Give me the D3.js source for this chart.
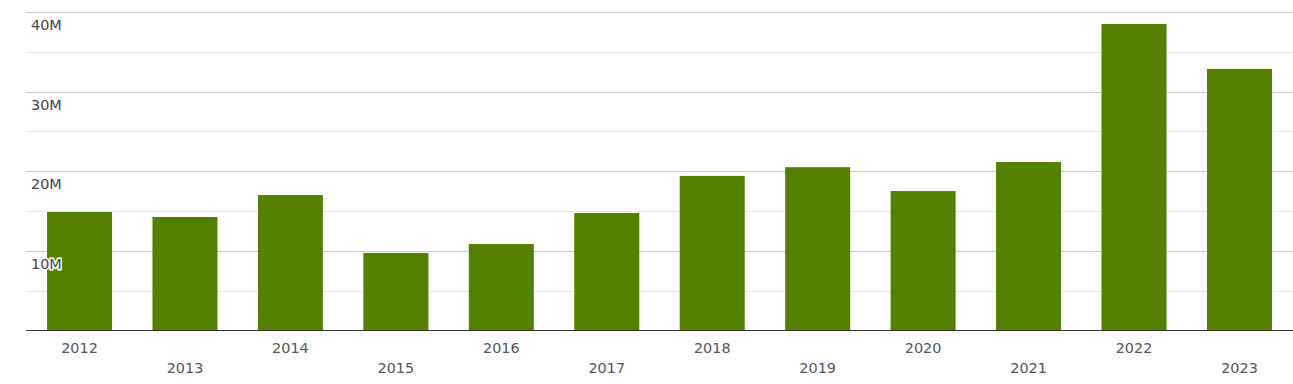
<!DOCTYPE html>
<html>
<head>
<meta charset="utf-8">
<script src="https://cdn.jsdelivr.net/npm/d3@7"></script>
<style>
  body { margin: 0; background: #fff; }
  text { font-family: "DejaVu Sans", sans-serif; font-size: 14.4px; }
</style>
</head>
<body>
<div id="ch"></div>
<script>
// Bar chart, values per year

const years = ["2012", "2013", "2014", "2015", "2016", "2017", "2018", "2019", "2020", "2021", "2022", "2023"];
const values = [14.87, 14.24, 17.0, 9.72, 10.85, 14.74, 19.4, 20.5, 17.5, 21.15, 38.5, 32.85]; // millions
const majorTicks = [10, 20, 30, 40];
const minorTicks = [5, 15, 25, 35];
const tickLabels = ["10M", "20M", "30M", "40M"];

const width = 1293;
const height = 384;
const mLeft = 26, mRight = 1293, mTop = 12, mBottom = 330.3;

const svg = d3
  .select("#ch")
  .append("svg")
  .attr("width", width)
  .attr("height", height);

let x = d3.scaleBand().domain(years).range([mLeft, mRight]).paddingInner(0.3836).paddingOuter(0.1994);
let y = d3.scaleLinear().domain([0, 40]).range([mBottom, mTop]);

/* grid */
svg.selectAll(".minor")
  .data(minorTicks)
  .enter()
  .append("line")
  .attr("x1", mLeft).attr("x2", mRight)
  .attr("y1", (d) => Math.round(y(d)) + 0.5)
  .attr("y2", (d) => Math.round(y(d)) + 0.5)
  .style("stroke", "#e8e8e8");

svg.selectAll(".major")
  .data(majorTicks)
  .enter()
  .append("line")
  .attr("x1", mLeft).attr("x2", mRight)
  .attr("y1", (d) => Math.round(y(d)) + 0.5)
  .attr("y2", (d) => Math.round(y(d)) + 0.5)
  .style("stroke", "#cccccc");

/* bars */
svg.selectAll(".bar")
  .data(values)
  .enter()
  .append("rect")
  .attr("x", (d, i) => x(years[i]))
  .attr("y", (d) => y(d))
  .attr("width", x.bandwidth())
  .attr("height", (d) => y(0) - y(d))
  .style("fill", "#548000");

/* baseline */
svg.append("line")
  .attr("x1", mLeft).attr("x2", mRight)
  .attr("y1", Math.round(y(0)) + 0.5).attr("y2", Math.round(y(0)) + 0.5)
  .style("stroke", "#333");

/* y labels */
svg.selectAll(".ylab")
  .data(majorTicks)
  .enter()
  .append("text")
  .attr("x", 31)
  .attr("y", (d) => y(d) + 18)
  .text((d, i) => tickLabels[i])
  .style("fill", "#444")
  .style("stroke", "#fff")
  .style("stroke-width", 3)
  .style("paint-order", "stroke");

/* x labels, staggered */
const xAxis = d3.axisBottom(x).tickSize(0);
const gx = svg.append("g")
  .attr("transform", `translate(0,${mBottom})`)
  .call(xAxis);
gx.select(".domain").remove();
gx.selectAll("text")
  .attr("y", (d, i) => (i % 2 === 0 ? 23 : 43))
  .attr("dy", "0")
  .style("font-family", "DejaVu Sans, sans-serif")
  .style("font-size", "14.4px")
  .style("fill", "#555");
</script>
</body>
</html>
